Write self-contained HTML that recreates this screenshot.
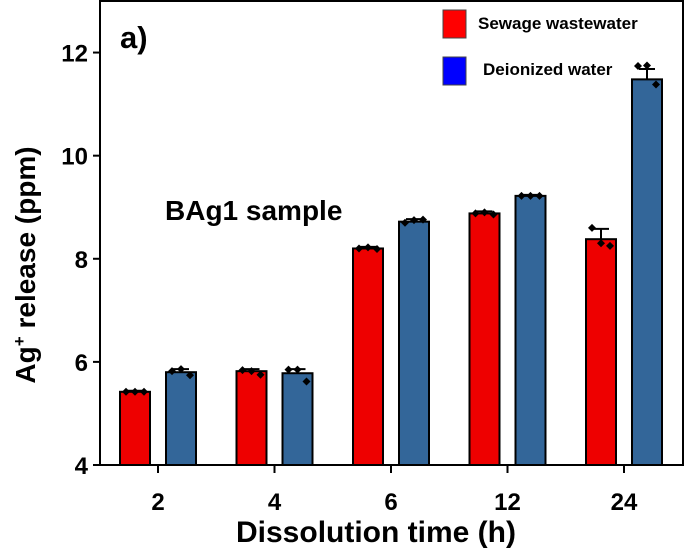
<!DOCTYPE html>
<html><head><meta charset="utf-8"><style>
body{margin:0;background:#fff;}
svg text{font-family:"Liberation Sans",Arial,sans-serif;font-weight:bold;fill:#000;}
</style></head><body>
<svg id="chart" width="685" height="550" viewBox="0 0 685 550">
<g id="plot"></g>
<text x="120" y="48" font-size="31">a)</text>
<text x="165" y="220" font-size="28">BAg1 sample</text>
<rect x="443" y="10" width="23" height="28" fill="#ff0000" stroke="#444" stroke-width="1"/>
<text x="478" y="29" font-size="17">Sewage wastewater</text>
<rect x="443" y="57" width="23" height="28" fill="#0000ff" stroke="#444" stroke-width="1"/>
<text x="483" y="75" font-size="17">Deionized water</text>
<text transform="translate(35,265) rotate(-90)" text-anchor="middle" font-size="28">Ag<tspan dy="-10" font-size="17">+</tspan><tspan dy="10"> release (ppm)</tspan></text>
<text x="376" y="542" text-anchor="middle" font-size="30">Dissolution time (h)</text>
</svg>
<script>
const categories=["2","4","6","12","24"];
const sewage=[5.42,5.82,8.2,8.88,8.38];
const sewageErr=[0.02,0.04,0.03,0.04,0.2];
const deion=[5.8,5.78,8.72,9.22,11.48];
const deionErr=[0.06,0.08,0.05,0.02,0.2];
const sewagePts=[[5.42,5.42,5.42],[5.84,5.82,5.75],[8.2,8.22,8.19],[8.88,8.9,8.86],[8.6,8.3,8.25]];
const deionPts=[[5.82,5.86,5.74],[5.85,5.85,5.62],[8.7,8.75,8.76],[9.22,9.22,9.22],[11.74,11.75,11.38]];
const yTicks=[4,6,8,10,12];
const NS="http://www.w3.org/2000/svg";
const L=100,R=683,T=1,B=465,ymin=4,ymax=13;
const y=v=>B-(v-ymin)/(ymax-ymin)*(B-T);
const xc=i=>158+i*116.5;
const g=document.getElementById('plot');
function mk(t,a,p){const e=document.createElementNS(NS,t);for(const k in a)e.setAttribute(k,a[k]);(p||g).appendChild(e);return e;}
const frame=mk('path',{d:`M${L},${T}H${R}V${B}H${L}Z`,fill:'none',stroke:'#000','stroke-width':2});


yTicks.forEach(v=>{
 const t=mk('line',{x1:L-7,x2:L,y1:y(v),y2:y(v),stroke:'#000','stroke-width':2});
 
 
 const l=mk('text',{x:L-12,y:y(v)+9,'text-anchor':'end','font-size':24});
 l.textContent=v;
 
 
});
categories.forEach((c,i)=>{
 const t=mk('line',{x1:xc(i),x2:xc(i),y1:B,y2:B+8,stroke:'#000','stroke-width':2});
 
 
 const l=mk('text',{x:xc(i),y:B+45,'text-anchor':'middle','font-size':24});
 l.textContent=c;
 
 
 [[sewage,sewageErr,sewagePts,'#ee0000',-23,'sewage'],[deion,deionErr,deionPts,'#336699',23,'deionized']].forEach(s=>{
  const cx=xc(i)+s[4],w=30,v=s[0][i];
  const b=mk('rect',{x:cx-w/2,y:y(v),width:w,height:B-y(v),fill:s[3],stroke:'#000','stroke-width':2});
  
  
  const e=s[1][i];
  const eb=mk('path',{d:`M${cx},${y(v)}V${y(v+e)}M${cx-8},${y(v+e)}H${cx+8}`,stroke:'#000','stroke-width':2,fill:'none'});
  
  
  s[2][i].forEach((p,j)=>{
   const px=cx+(j-1)*9,py=y(p);
   const d=mk('path',{d:`M${px},${py-4}L${px+4},${py}L${px},${py+4}L${px-4},${py}Z`,fill:'#000'});
   
   
  });
 });
});
</script>
</body></html>
